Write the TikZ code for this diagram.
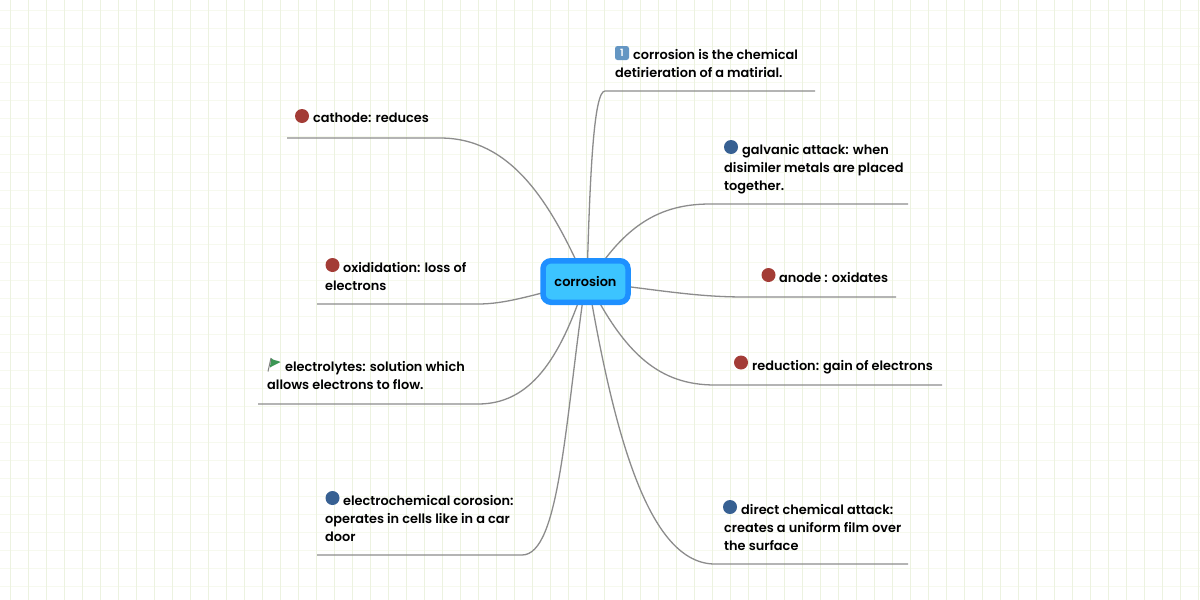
\documentclass[tikz,border=0pt]{standalone}
\usepackage{fontspec}
\setmainfont{Poppins}[BoldFont={Poppins SemiBold}]
\usetikzlibrary{positioning,backgrounds}
\definecolor{gridv}{RGB}{236,242,224}
\definecolor{gridh}{RGB}{246,249,238}
\definecolor{branch}{RGB}{140,140,140}
\definecolor{rootfill}{RGB}{60,196,255}
\definecolor{rootline}{RGB}{30,144,255}
\definecolor{dotred}{RGB}{163,60,54}
\definecolor{dotblue}{RGB}{55,96,146}
\definecolor{flaggreen}{RGB}{60,150,85}
\definecolor{keyblue}{RGB}{100,150,195}
\tikzset{
    topic/.style={anchor=north west,inner sep=0pt,align=left,font=\fontsize{12.9}{18}\selectfont\bfseries},
    reddot/.style={circle,fill=dotred,minimum size=14pt,inner sep=0pt},
    bluedot/.style={circle,fill=dotblue,minimum size=14pt,inner sep=0pt},
    link/.style={draw=branch,line width=1.3pt}
}
\begin{document}
\begin{tikzpicture}[x=1pt,y=-1pt]
            \useasboundingbox (0,0) rectangle (1200,600);

            \node[draw=rootline,fill=rootfill,line width=5.5pt,rounded corners=8pt,
                minimum width=85pt,minimum height=41.5pt,inner sep=0pt,
                font=\fontsize{12.9}{18}\selectfont\bfseries] (root) at (585.5,281.5) {corrosion};

            \node[topic] (matter) at (615,49) {\hspace{18pt}corrosion is the chemical\\detirieration of a matirial.};
            \node[topic] (galvanic) at (724,144) {\hspace{18pt}galvanic attack: when\\disimiler metals are placed\\together.};
            \node[topic] (anode) at (779,272) {anode : oxidates};
            \node[topic] (reduction) at (752,360) {reduction: gain of electrons};
            \node[topic] (direct) at (724,504) {\hspace{17pt}direct chemical attack:\\creates a uniform film over\\the surface};
            \node[topic] (cells) at (325,495) {\hspace{18pt}electrochemical corosion:\\operates in cells like in a car\\door};
            \node[topic] (solution) at (267,361) {\hspace{18pt}electrolytes: solution which\\allows electrons to flow.};
            \node[topic] (oxid) at (325,262) {\hspace{18pt}oxididation: loss of\\electrons};
            \node[topic] (cathode) at (313,113) {cathode: reduces};

            \node[bluedot] (dgalvanic) at (731,147) {};
            \node[reddot] (danode) at (768.5,275) {};
            \node[reddot] (dreduction) at (741,362.5) {};
            \node[bluedot] (ddirect) at (730,507) {};
            \node[bluedot] (dcells) at (332.5,498) {};
            \node[reddot] (doxid) at (332.5,265) {};
            \node[reddot] (dcathode) at (302,116) {};

            \node[fill=keyblue,rounded corners=2.5pt,minimum size=14pt,inner sep=0pt,
                text=white,font=\fontsize{10}{10}\selectfont\bfseries] (key) at (622,53) {1};
            \fill[flaggreen] (271,358) .. controls (274,361) and (277,360) .. (280.5,362)
                .. controls (277,364) and (274,365) .. (270,367.5) -- cycle;
            \draw[gray,line width=1pt] (271,358) -- (268,371.5);

            \coordinate (matterend) at (605,91);
            \coordinate (galvanicend) at (710,204);
            \coordinate (anodeend) at (745,297);
            \coordinate (reductionend) at (715,385);
            \coordinate (directend) at (715,564);
            \coordinate (cellsend) at (522,555);
            \coordinate (solutionend) at (478,404);
            \coordinate (oxidend) at (478,304);
            \coordinate (cathodeend) at (440,138);

            \begin{scope}[on background layer]
                \fill[white] (0,0) rectangle (1200,600);
                \foreach \gy in {10,28,...,598}
                    \draw[gridh,line width=0.8pt] (0,\gy) -- (1200,\gy);
                \foreach \gx in {10,28,...,1198}
                    \draw[gridv,line width=0.8pt] (\gx,0) -- (\gx,600);

                \draw[link] (587,281) .. controls (590,170) and (594,91) .. (matterend) -- (815,91);
                \draw[link] (590,281) .. controls (625,225) and (660,204) .. (galvanicend) -- (908,204);
                \draw[link] (root.center) .. controls (660,290) and (695,297) .. (anodeend) -- (896,297);
                \draw[link] (588,281) .. controls (625,355) and (660,385) .. (reductionend) -- (942,385);
                \draw[link] (588,281) .. controls (615,440) and (650,564) .. (directend) -- (908,564);
                \draw[link] (root.center) .. controls (565,420) and (560,555) .. (cellsend) -- (317,555);
                \draw[link] (root.center) .. controls (560,360) and (530,404) .. (solutionend) -- (258,404);
                \draw[link] (root.center) .. controls (530,296) and (505,304) .. (oxidend) -- (317,304);
                \draw[link] (root.center) .. controls (550,200) and (510,138) .. (cathodeend) -- (287,138);
            \end{scope}
        \end{tikzpicture}
\end{document}
